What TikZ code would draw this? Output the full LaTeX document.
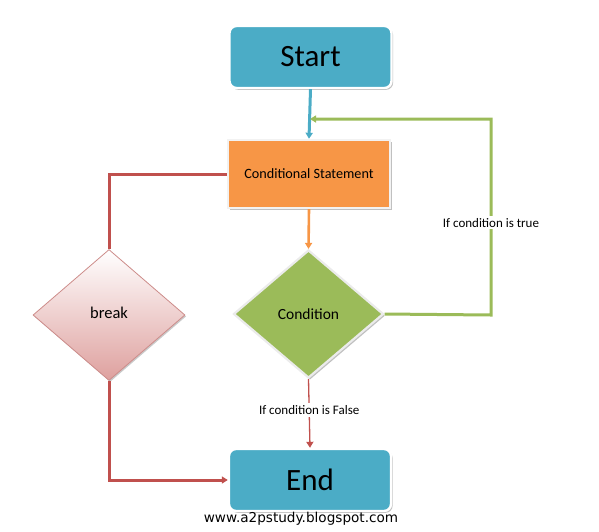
\documentclass[tikz,border=0pt]{standalone}
\usepackage{fontspec}
\setmainfont{Carlito}
\newfontfamily\wmfont{DejaVu Sans}
\usetikzlibrary{shapes.geometric,arrows.meta,shadows}
\definecolor{sblue}{HTML}{4BACC6}
\definecolor{sorange}{HTML}{F79646}
\definecolor{sgreen}{HTML}{9BBB59}
\definecolor{sred}{HTML}{C0504D}
\definecolor{spinkb}{RGB}{222,160,158}
\definecolor{spinkd}{RGB}{205,140,138}
\tikzset{
  boxshadow/.style={drop shadow={shadow xshift=1.6pt,shadow yshift=-1.8pt,opacity=.45,fill=black!55}},
  termbox/.style={rectangle,rounded corners=7pt,fill=sblue,draw=white,line width=2.4pt,
    minimum width=162pt,minimum height=62pt,inner sep=0pt,font=\fontsize{31}{33}\selectfont,boxshadow},
  procbox/.style={rectangle,fill=sorange,draw=white!95!black,line width=2.4pt,
    minimum width=162pt,minimum height=68pt,inner sep=0pt,font=\fontsize{14.2}{16}\selectfont,boxshadow},
  conddia/.style={diamond,fill=sgreen,draw=white!92!black,line width=2.2pt,
    minimum width=150pt,minimum height=128pt,inner sep=0pt,font=\fontsize{15.5}{17}\selectfont,boxshadow},
  brkdia/.style={diamond,top color=white,bottom color=spinkb,draw=spinkd,line width=0.8pt,
    minimum width=152pt,minimum height=131pt,inner sep=0pt,font=\fontsize{16.5}{18}\selectfont,
    drop shadow={shadow xshift=1.2pt,shadow yshift=-1.4pt,opacity=.35,fill=black!60}},
  tip/.style={-{Triangle[width=7pt,length=6pt]}},
  blueline/.style={draw=sblue,line width=3pt,tip},
  orangeline/.style={draw=sorange,line width=2.6pt,tip},
  greenline/.style={draw=sgreen,line width=3pt,tip},
  redline/.style={draw=sred,line width=3pt},
  falseline/.style={draw=sred,line width=1.3pt,tip},
  lbl/.style={fill=white,inner sep=2pt,font=\fontsize{13}{15}\selectfont}
}
\begin{document}
\begin{tikzpicture}[x=1pt,y=-1pt]
\useasboundingbox (0,0) rectangle (599,531);
\node[termbox] (start) at (310.5,57) {Start};
\node[procbox] (cond) at (309,174) {Conditional Statement};
\node[conddia] (cnd) at (308.5,314) {Condition};
\node[brkdia] (brk) at (109,315) {\raisebox{5pt}{break}\hspace{8pt}};
\node[termbox] (end) at (310,480) {End};
\coordinate (gr) at (491,315);
\coordinate (gt) at (491,119);
\coordinate (gend) at (310,119);
\draw[blueline] (start.south) -- (cond.north);
\draw[orangeline] (cond.south) -- (cnd.north);
\draw[greenline] (cnd.east) -- (gr) -- node[lbl,pos=0.47] (tlabel) {If condition is true} (gt) -- (gend);
\draw[redline] (cond.west) -| (brk.north);
\draw[redline,tip] (brk.south) |- (end.west);
\draw[falseline] (cnd.south) -- node[lbl,pos=0.45] (flabel) {If condition is False} (end.north);
\node[font=\wmfont\fontsize{13.6}{15}\selectfont] (wm) at (301,519) {www.a2pstudy.blogspot.com};
\end{tikzpicture}
\end{document}
